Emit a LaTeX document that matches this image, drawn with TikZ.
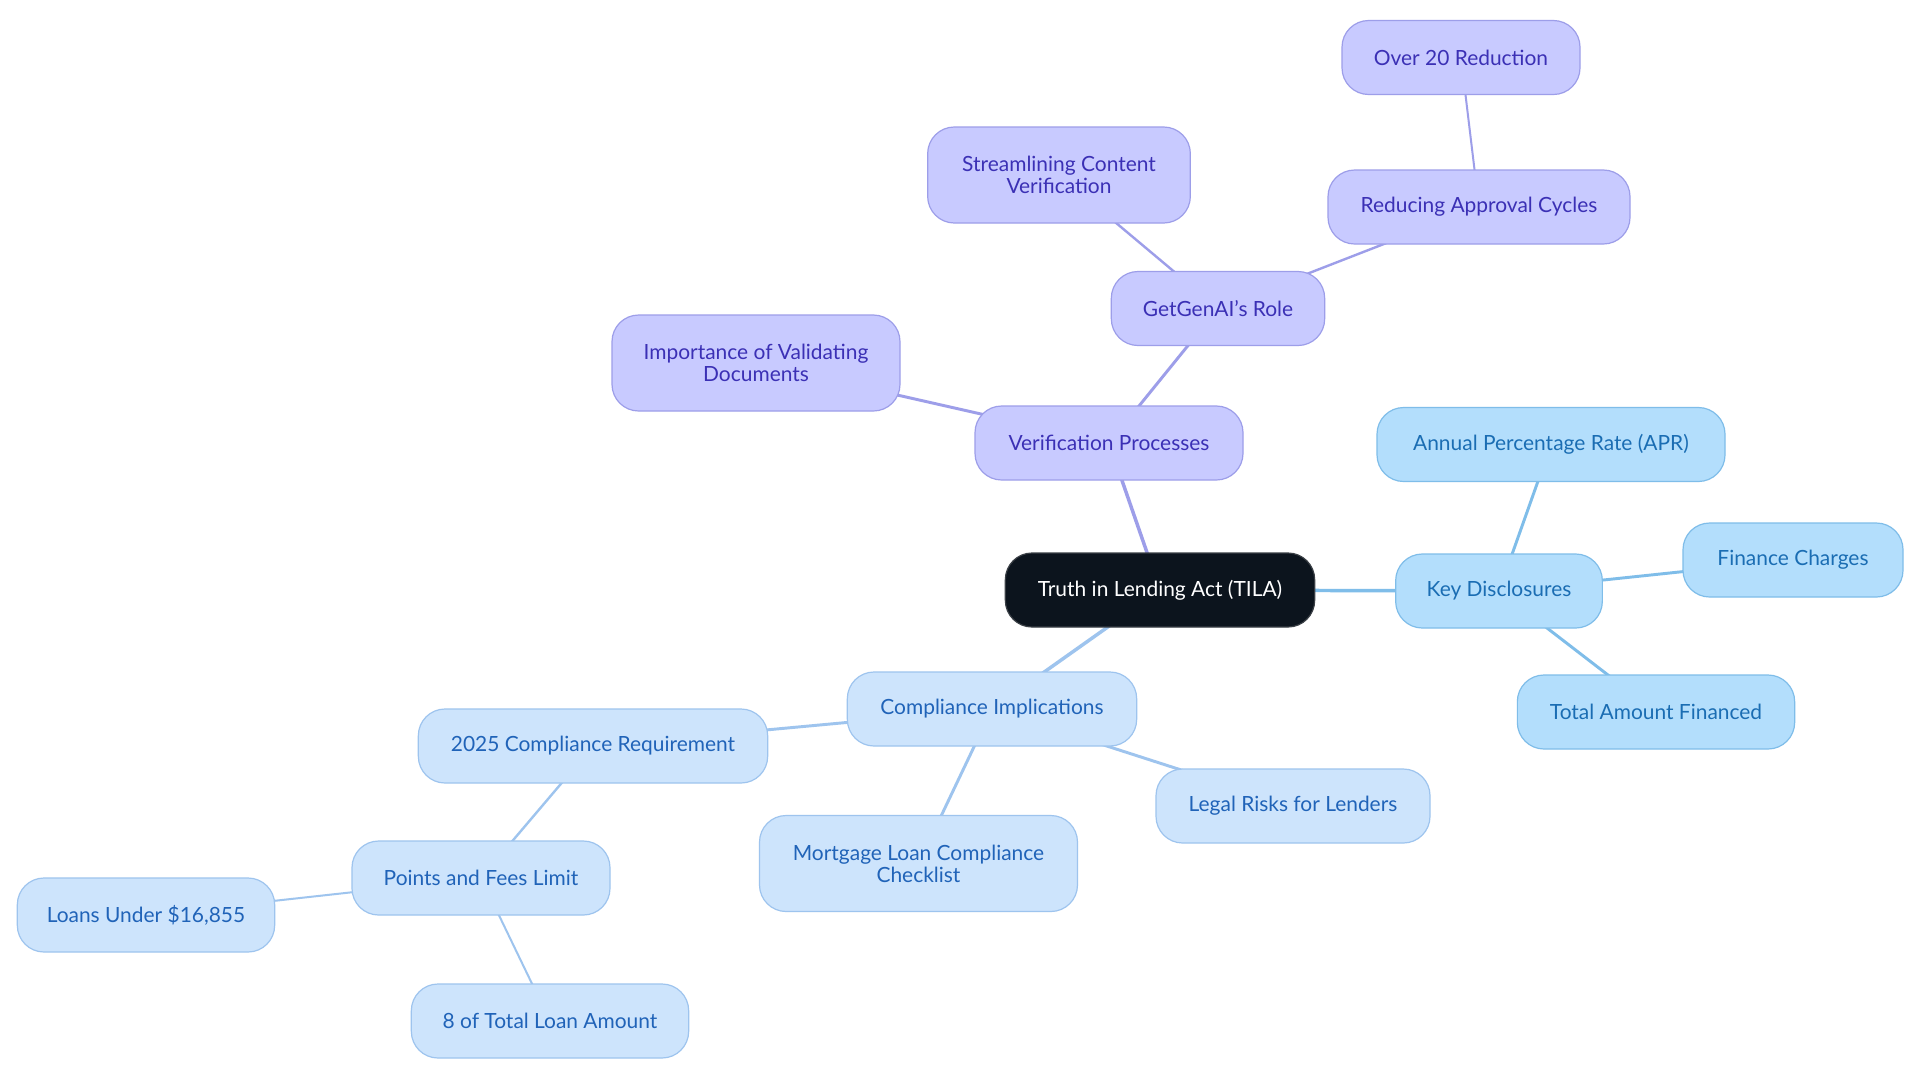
\documentclass[tikz,border=0pt]{standalone}
\usepackage{fontspec}
\setmainfont{Lato}
\usetikzlibrary{backgrounds}
\definecolor{rootfill}{HTML}{0C141D}
\definecolor{rootdraw}{HTML}{3A3F45}
\definecolor{vfill}{HTML}{C8CAFF}
\definecolor{vdraw}{HTML}{9D9EE9}
\definecolor{vtext}{HTML}{3B30B5}
\definecolor{kfill}{HTML}{B3DEFC}
\definecolor{kdraw}{HTML}{7FBDE9}
\definecolor{ktext}{HTML}{1A6DB3}
\definecolor{cfill}{HTML}{CDE4FC}
\definecolor{cdraw}{HTML}{9EC4EE}
\definecolor{ctext}{HTML}{2063B8}
\tikzset{
  base/.style={rounded corners=20pt, line width=0.9pt, align=center, inner sep=0pt,
    minimum height=55.5pt, font=\fontsize{15.7}{16.5}\selectfont},
  rootbox/.style={base, fill=rootfill, draw=rootdraw, text=white},
  vbox/.style={base, fill=vfill, draw=vdraw, text=vtext},
  kbox/.style={base, fill=kfill, draw=kdraw, text=ktext},
  cbox/.style={base, fill=cfill, draw=cdraw, text=ctext},
  tall/.style={minimum height=72pt},
  vedge/.style={draw=vdraw, line width=#1},
  kedge/.style={draw=kdraw, line width=#1},
  cedge/.style={draw=cdraw, line width=#1},
}
\begin{document}
\begin{tikzpicture}[x=0.75pt,y=-0.75pt]
\useasboundingbox (0,0) rectangle (1920,1083);
% nodes
\node[rootbox, minimum width=232pt] (tila) at (1160,590) {Truth in Lending Act (TILA)};
\node[kbox, minimum width=155pt] (key) at (1499,591) {Key Disclosures};
\node[kbox, minimum width=261pt] (apr) at (1551,444.5) {Annual Percentage Rate (APR)};
\node[kbox, minimum width=165pt] (fin) at (1793,560) {Finance Charges};
\node[kbox, minimum width=208pt] (tot) at (1656,712) {Total Amount Financed};
\node[vbox, minimum width=201pt] (ver) at (1109,443) {Verification Processes};
\node[vbox, tall, minimum width=216pt] (imp) at (756,363) {Importance of Validating\\Documents};
\node[vbox, minimum width=160pt] (gen) at (1218,308.5) {GetGenAI’s Role};
\node[vbox, tall, minimum width=197pt] (str) at (1059,175) {Streamlining Content\\Verification};
\node[vbox, minimum width=226.5pt] (red) at (1479,207) {Reducing Approval Cycles};
\node[vbox, minimum width=178.5pt] (over) at (1461,57.5) {Over 20 Reduction};
\node[cbox, minimum width=217pt] (comp) at (992,709) {Compliance Implications};
\node[cbox, minimum width=262pt] (req) at (593,746) {2025 Compliance Requirement};
\node[cbox, minimum width=193.5pt] (pts) at (481,878) {Points and Fees Limit};
\node[cbox, minimum width=193pt] (loans) at (146,915) {Loans Under \$16,855};
\node[cbox, minimum width=208pt] (eight) at (550,1021) {8 of Total Loan Amount};
\node[cbox, tall, minimum width=238.5pt] (mort) at (918.5,863.5) {Mortgage Loan Compliance\\Checklist};
\node[cbox, minimum width=205.5pt] (legal) at (1293,806) {Legal Risks for Lenders};
% edges
\begin{scope}[on background layer]
\fill[white] (0,0) rectangle (1920,1083);
\draw[vedge=2.6pt] (tila.center) -- (ver.center);
\draw[vedge=2.2pt] (ver.center) -- (imp.center);
\draw[vedge=2.2pt] (ver.center) -- (gen.center);
\draw[vedge=1.8pt] (gen.center) -- (str.center);
\draw[vedge=1.8pt] (gen.center) -- (red.center);
\draw[vedge=1.5pt] (red.center) -- (over.center);
\draw[kedge=2.6pt] (tila.center) -- (key.center);
\draw[kedge=2.2pt] (key.center) -- (apr.center);
\draw[kedge=2.2pt] (key.center) -- (fin.center);
\draw[kedge=2.2pt] (key.center) -- (tot.center);
\draw[cedge=2.6pt] (tila.center) -- (comp.center);
\draw[cedge=2.2pt] (comp.center) -- (req.center);
\draw[cedge=2.2pt] (comp.center) -- (mort.center);
\draw[cedge=2.2pt] (comp.center) -- (legal.center);
\draw[cedge=1.8pt] (req.center) -- (pts.center);
\draw[cedge=1.5pt] (pts.center) -- (loans.center);
\draw[cedge=1.5pt] (pts.center) -- (eight.center);
\end{scope}
\end{tikzpicture}
\end{document}
